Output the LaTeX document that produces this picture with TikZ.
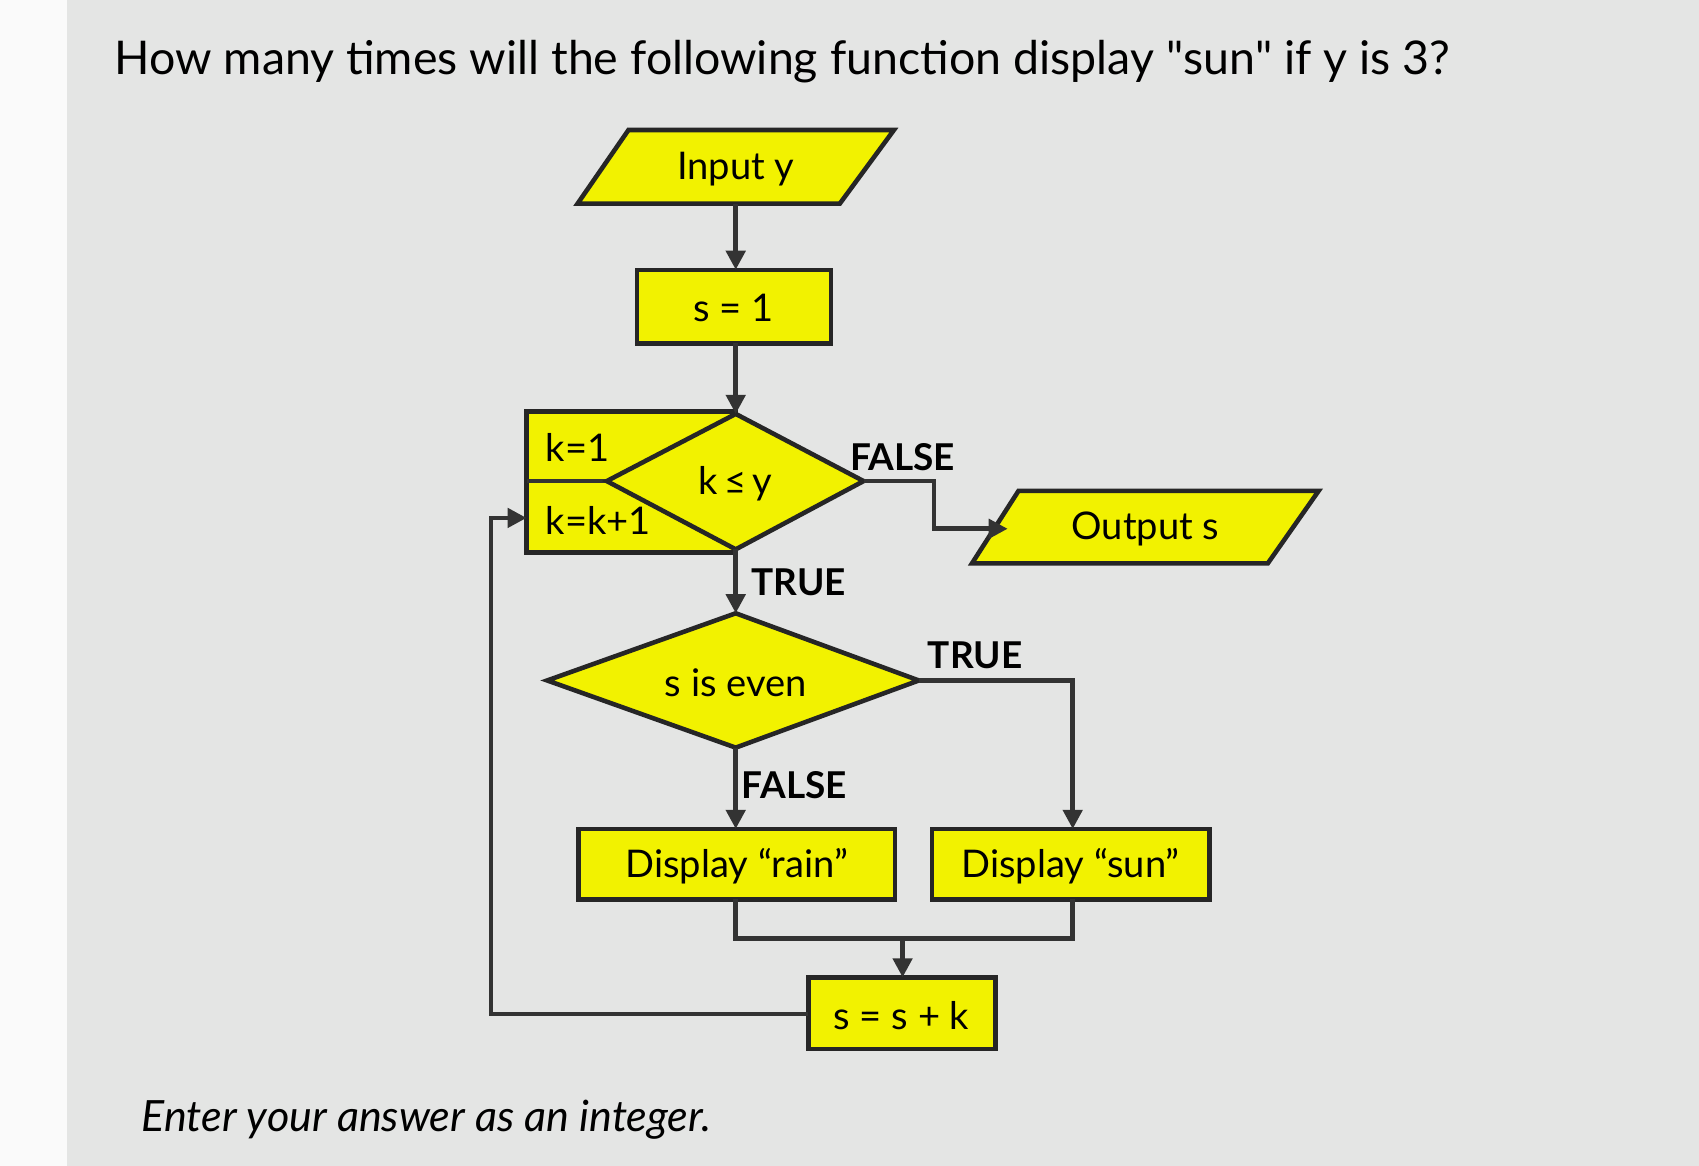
\documentclass[tikz,border=0pt]{standalone}
\usepackage{fontspec}
\setmainfont{Lato}
\newfontfamily\plainlato{Lato}
\usetikzlibrary{arrows.meta}
\definecolor{bg}{HTML}{E4E5E4}
\definecolor{yel}{HTML}{F2F200}
\begin{document}
\begin{tikzpicture}[x=0.01cm,y=-0.01cm,
  shp/.style={draw=black!85,line width=1.2pt,fill=yel,line join=miter},
  conn/.style={draw=black!80,line width=1.2pt},
  arr/.style={conn,-{Triangle[length=5pt,width=5pt]}},
  txt/.style={font=\fontsize{10}{12}\selectfont,inner sep=0pt},
  lbl/.style={font=\bfseries\fontsize{9.7}{12}\selectfont,inner sep=0pt}]
\fill[bg] (0,0) rectangle (1568,1076);
\fill[black!2] (0,0) rectangle (62,1076);
\node[anchor=west,font=\fontsize{12.2}{15}\selectfont,inner sep=0pt] (title) at (105,57) {How many times will the following function display {\plainlato"}sun{\plainlato"} if y is 3?};
\node[anchor=west,font=\itshape\fontsize{11.3}{14}\selectfont,inner sep=0pt] (enter) at (130,1033) {Enter your answer as an integer.};
% input y
\path[shp] (580,120) -- (825,120) -- (775,188) -- (533,188) -- cycle;
\node[txt] (inp) at (679,156) {Input y};
\coordinate (inpB) at (679,188);
% s=1
\path[shp] (588,249) rectangle (767,317);
\node[txt] (s1t) at (677,284) {s = 1};
\draw[arr] (inpB) -- (679,249);
% box k
\path[shp] (486,380) rectangle (679,510);
\draw[conn] (486,444) -- (560,444);
\node[txt,anchor=west] (k1) at (503,413) {k=1};
\node[txt,anchor=west] (kk) at (503,480) {k=k+1};
% diamond 1
\path[shp] (679,382) -- (797,444) -- (679,507) -- (560,444) -- cycle;
\node[txt] (d1) at (679,446) {k\,≤\,y};
\coordinate (d1T) at (679,382); \coordinate (d1R) at (797,444); \coordinate (d1B) at (679,507);
\draw[arr] (679,317) -- (d1T);
% output s
\path[shp] (940,453) -- (1217,453) -- (1170,520) -- (897,520) -- cycle;
\node[txt] (out) at (1057,488) {Output s};
\draw[arr] (d1R) -- (862,444) -- (862,488) -- (930,488);
\node[lbl] (f1) at (833,422) {FALSE};
% diamond 2
\path[shp] (679,566) -- (848,628) -- (679,690) -- (505,628) -- cycle;
\node[txt] (d2) at (679,630) {s is even};
\coordinate (d2T) at (679,566); \coordinate (d2R) at (848,628); \coordinate (d2B) at (679,690);
\draw[arr] (d1B) -- (d2T);
\node[lbl] (t1) at (737,537) {TRUE};
% displays
\path[shp] (534,765) rectangle (826,830);
\node[txt] (rain) at (680,799) {Display “rain”};
\path[shp] (860,765) rectangle (1116,830);
\node[txt] (sun) at (988,799) {Display “sun”};
\draw[arr] (d2R) -- (990,628) -- (990,765);
\node[lbl] (t2) at (900,605) {TRUE};
\draw[arr] (d2B) -- (679,765);
\node[lbl] (f2) at (733,725) {FALSE};
% merge
\draw[conn] (679,830) -- (679,866) -- (990,866) -- (990,830);
\path[shp] (746,902) rectangle (919,968);
\node[txt] (ssk) at (832,937) {s = s + k};
\draw[arr] (833,866) -- (833,902);
\draw[arr] (746,936) -- (453,936) -- (453,478) -- (486,478);
\end{tikzpicture}
\end{document}
